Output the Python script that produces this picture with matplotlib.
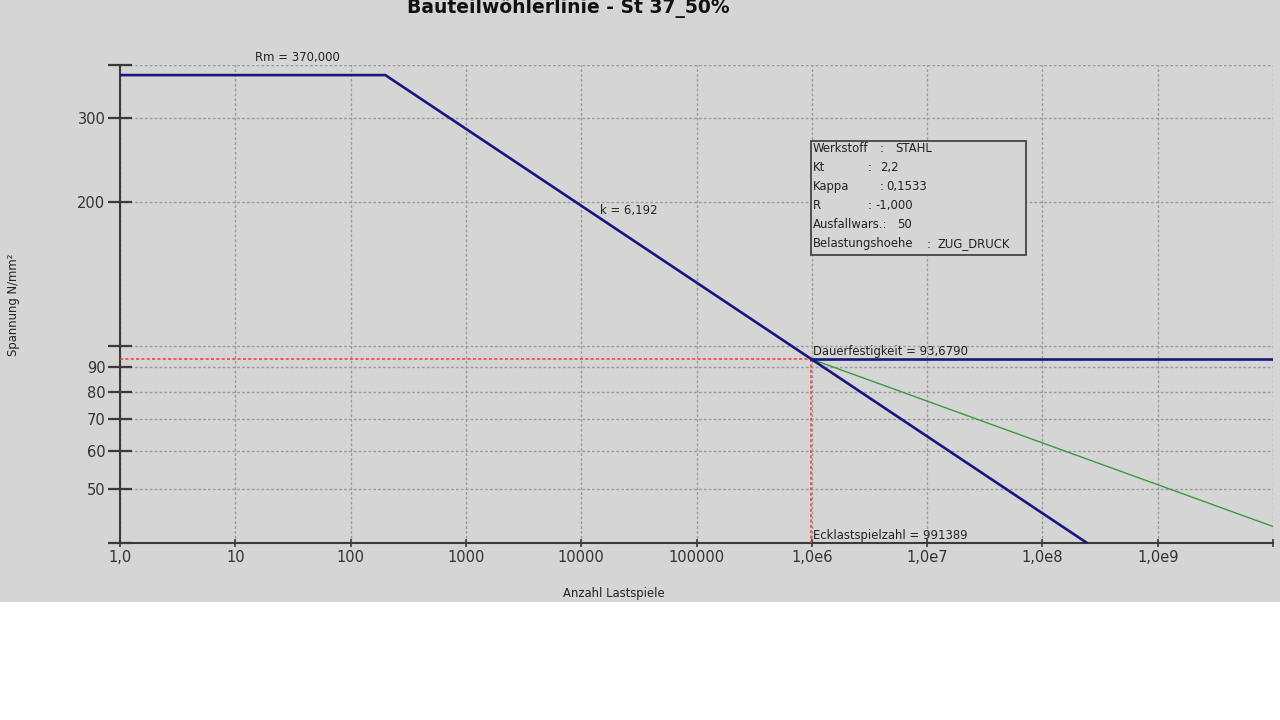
import matplotlib
matplotlib.use("Agg")
import matplotlib.pyplot as plt
from matplotlib.patches import Rectangle

# ---- data ----
title = "Bauteilwöhlerlinie - St 37_50%"
x_label = "Anzahl Lastspiele"
y_label = "Spannung N/mm²"

x_ticks = [1, 10, 100, 1000, 1e4, 1e5, 1e6, 1e7, 1e8, 1e9, 1e10]
x_ticklabels = ["1,0", "10", "100", "1000", "10000", "100000",
                "1,0e6", "1,0e7", "1,0e8", "1,0e9", ""]
y_ticks = [38.5, 50, 60, 70, 80, 90, 100, 200, 300, 388.5]
y_ticklabels = ["", "50", "60", "70", "80", "90", "", "200", "300", ""]

# Woehler curve (blue): static limit, sloped part, continuation
blue_N = [1, 200, 991389, 2.44e8]
blue_S = [370.0, 370.0, 93.679, 38.5]
# fatigue limit (horizontal blue)
limit_N = [991389, 1e10]
limit_S = [93.679, 93.679]
# modified slope (green)
green_N = [991389, 1e10]
green_S = [93.679, 41.7]
# red reference lines
red_h_N = [1, 991389]
red_h_S = [93.679, 93.679]
red_v_N = [991389, 991389]
red_v_S = [93.679, 38.5]

info_labels = ["Werkstoff", "Kt", "Kappa", "R", "Ausfallwars.", "Belastungshoehe"]
info_values = ["STAHL", "2,2", "0,1533", "-1,000", "50", "ZUG_DRUCK"]

# ---- figure ----
W, H = 1280, 720
fig = plt.figure(figsize=(12.8, 7.2), dpi=100, facecolor="white")
bg = "#d5d5d5"
fig.patches.append(Rectangle((0, 1 - 602 / H), 1, 602 / H, transform=fig.transFigure,
                             facecolor=bg, edgecolor="none", zorder=-10))

ax = fig.add_axes([120 / W, 1 - 543 / H, (1273 - 120) / W, (543 - 65) / H])
ax.set_facecolor(bg)
ax.set_xscale("log")
ax.set_yscale("log")
ax.set_xlim(1, 1e10)
ax.set_ylim(38.5, 388.5)

navy = "#17177f"
ax.plot(blue_N, blue_S, color=navy, lw=1.9, zorder=5)
ax.plot(limit_N, limit_S, color=navy, lw=1.9, zorder=5)
ax.plot(green_N, green_S, color="#3c9a3c", lw=1.0, zorder=4)
ax.plot(red_h_N, red_h_S, color="#ff3535", lw=1.1, ls=(0, (2, 1.5)), zorder=3)
ax.plot(red_v_N, red_v_S, color="#ff3535", lw=1.1, ls=(0, (2, 1.5)), zorder=3)

ax.xaxis.set_minor_locator(matplotlib.ticker.NullLocator())
ax.yaxis.set_minor_locator(matplotlib.ticker.NullLocator())
ax.set_xticks(x_ticks)
ax.set_xticklabels(x_ticklabels)
ax.set_yticks(y_ticks)
ax.set_yticklabels(y_ticklabels)

ax.grid(True, which="major", color="#9c9c9c", lw=1.0, ls=(0, (2, 1.5)))
ax.set_axisbelow(True)
for s in ["top", "right"]:
    ax.spines[s].set_visible(False)
for s in ["left", "bottom"]:
    ax.spines[s].set_color("#3a3a3a")
    ax.spines[s].set_linewidth(1.5)

ax.tick_params(axis="y", direction="inout", length=17, width=1.6, color="#3a3a3a",
               labelsize=10.5, labelcolor="#333333", pad=2)
ax.tick_params(axis="x", direction="inout", length=6, width=1.2, color="#3a3a3a",
               labelsize=10.5, labelcolor="#333333", pad=2)

# annotations
fs = 8.4
tc = "#222222"
fig.text(255 / W, 1 - 57 / H, "Rm = 370,000", fontsize=fs, color=tc, va="center", ha="left")
fig.text(600 / W, 1 - 210 / H, "k = 6,192", fontsize=fs, color=tc, va="center", ha="left")
fig.text(813 / W, 1 - 352 / H, "Dauerfestigkeit = 93,6790", fontsize=fs, color=tc,
         va="center", ha="left")
fig.text(813 / W, 1 - 535 / H, "Ecklastspielzahl = 991389", fontsize=fs, color=tc,
         va="center", ha="left")

# info box (filled so grid does not show through)
fig.patches.append(Rectangle((811 / W, 1 - 255 / H), (1026 - 811) / W, (255 - 141) / H,
                             transform=fig.transFigure, facecolor=bg,
                             edgecolor="#444444", lw=1.3, zorder=10))
colon_x = [880, 868, 880, 868, 869, 927]
value_x = [895, 880, 886, 875, 897, 938]
for i, (lab, val) in enumerate(zip(info_labels, info_values)):
    yy = 1 - (148 + i * 19.2) / H
    if lab == "Ausfallwars.":
        fig.text(813 / W, yy, lab + ":", fontsize=fs, color=tc, va="center", ha="left", zorder=11)
    else:
        fig.text(813 / W, yy, lab, fontsize=fs, color=tc, va="center", ha="left", zorder=11)
        fig.text(colon_x[i] / W, yy, ":", fontsize=fs, color=tc, va="center", ha="left", zorder=11)
    fig.text(value_x[i] / W, yy, val, fontsize=fs, color=tc, va="center", ha="left", zorder=11)

fig.text(568 / W, 1 - 13 / H, title, fontsize=13.5, fontweight="bold", color="#111111",
         ha="center", va="baseline")
fig.text(614 / W, 1 - 594 / H, x_label, fontsize=fs, color=tc, ha="center", va="center")
fig.text(14 / W, 1 - 305 / H, y_label, fontsize=fs, color=tc, ha="center", va="center",
         rotation=90)

fig.savefig("out.png", dpi=100, facecolor="white")
